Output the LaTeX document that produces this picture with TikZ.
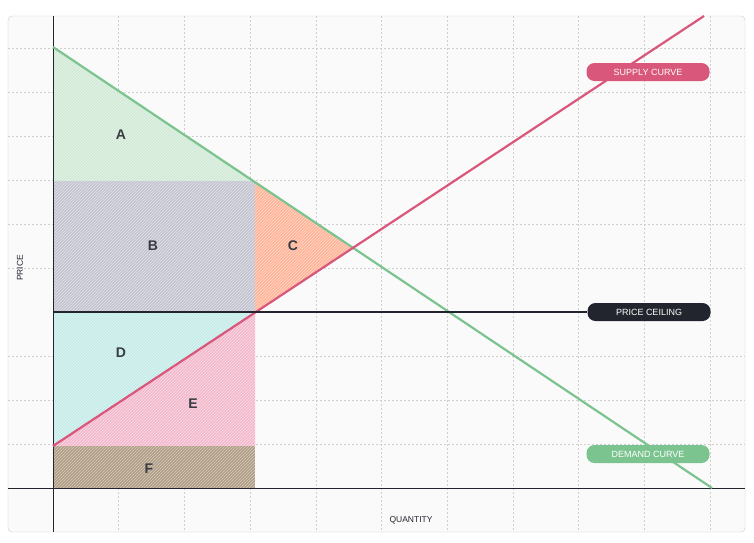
\documentclass[tikz,border=0pt]{standalone}
\usepackage{fontspec}
\setmainfont{Liberation Sans}
\usetikzlibrary{patterns}
\definecolor{sup}{HTML}{D9577A}
\definecolor{dem}{HTML}{7CC48F}
\definecolor{ceil}{HTML}{23252E}
\definecolor{grd}{HTML}{CFCFCF}
\definecolor{bg}{HTML}{FAFAFA}
\definecolor{frm}{HTML}{CDCDCD}
\begin{document}
\begin{tikzpicture}[x=1pt,y=-1pt,
  region/.style={draw=none},
  gridline/.style={grd,dash pattern=on 2pt off 2pt,line width=0.5pt},
  letter/.style={font=\bfseries\fontsize{14}{14}\selectfont,text=ceil!90},
  pill/.style={rounded corners=8pt,minimum width=123pt,minimum height=18pt,inner sep=0pt,text=white,font=\fontsize{9}{9}\selectfont},
  axlabel/.style={font=\fontsize{8.5}{8.5}\selectfont,text=ceil}]
\useasboundingbox (0,0) rectangle (754,542);
\fill[white] (0,0) rectangle (754,542);
\filldraw[fill=bg,draw=frm,rounded corners=4pt] (8,16) rectangle (745,532);
% grid
\foreach \x in {118.7,184.4,250.1,315.8,381.5,447.2,512.9,578.6,644.3,710}
  \draw[gridline] (\x,16) -- (\x,532);
\foreach \y in {48,92,136,180,224,268,356,400,444}
  \draw[gridline] (8,\y) -- (745,\y);
% regions
\fill[region,fill={rgb,255:red,208;green,234;blue,214}] (53,47) -- (255,181) -- (53,181) -- cycle;
\fill[region,fill={rgb,255:red,196;green,196;blue,208}] (53,181) rectangle (255,312);
\fill[region,fill={rgb,255:red,255;green,180;blue,152}] (255,181) -- (353,248) -- (255,313) -- cycle;
\fill[region,fill={rgb,255:red,196;green,236;blue,234}] (53,312) -- (255,312) -- (53,446) -- cycle;
\fill[region,fill={rgb,255:red,243;green,184;blue,204}] (53,446) -- (255,312) -- (255,446) -- cycle;
\fill[region,fill={rgb,255:red,176;green,156;blue,132}] (53,446) rectangle (255,488);
\fill[pattern=north east lines,pattern color=white,opacity=0.5] (53,47) -- (255,181) -- (353,248) -- (255,313) -- (255,488) -- (53,488) -- cycle;
% axes
\draw[ceil,line width=0.8pt] (53,16) -- (53,532);
\draw[ceil,line width=0.8pt] (8,488) -- (745,488);
% curves
\coordinate (d0) at (53,47); \coordinate (d1) at (712,488);
\coordinate (s0) at (53,446); \coordinate (s1) at (704,16);
\coordinate (c0) at (53,312);
\draw[dem,line width=2.2pt] (d0) -- (d1);
\draw[sup,line width=2.2pt] (s0) -- (s1);
\node[pill,fill=ceil] (pc) at (649,312) {PRICE CEILING};
\draw[ceil,line width=2.4pt] (c0) -- (pc.west);
\node[pill,fill=sup] (sl) at (648,72) {SUPPLY CURVE};
\node[pill,fill=dem] (dl) at (648,454) {DEMAND CURVE};
% letters
\node[letter] (la) at (121,135) {A};
\node[letter] (lb) at (153,246) {B};
\node[letter] (lc) at (293,246) {C};
\node[letter] (ld) at (121,353) {D};
\node[letter] (le) at (193,404) {E};
\node[letter] (lf) at (149,469) {F};
\node[axlabel,rotate=90] (py) at (20,268) {PRICE};
\node[axlabel] (qx) at (411,520) {QUANTITY};
\end{tikzpicture}
\end{document}
